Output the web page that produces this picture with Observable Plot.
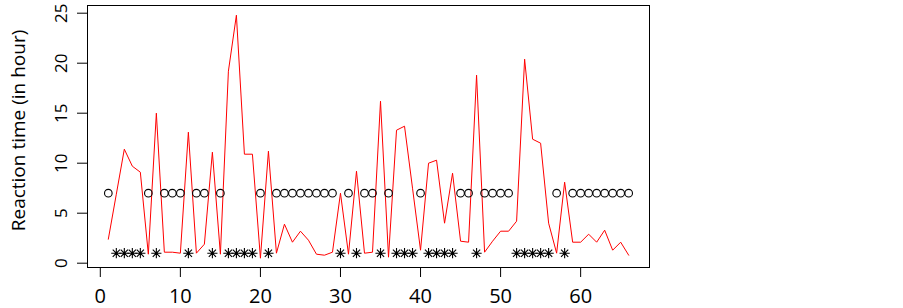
<!DOCTYPE html>
<html><head><meta charset="utf-8">
<script src="https://cdn.jsdelivr.net/npm/d3@7"></script>
<script src="https://cdn.jsdelivr.net/npm/@observablehq/plot@0.6"></script>
<style>body{margin:0;background:#fff}</style>
</head><body><div id="chart"></div>
<script>
// Reaction time (hours) for observations 1..66
const reactionTime = [
  2.4, 6.9, 11.4, 9.7, 9.1, 0.9, 15.0, 1.1, 1.1, 1.0,
  13.1, 1.0, 1.9, 11.1, 0.9, 19.2, 24.8, 10.9, 10.9, 0.5,
  11.2, 1.0, 3.9, 2.1, 3.2, 2.3, 0.9, 0.8, 1.1, 7.0,
  0.9, 9.2, 1.0, 1.1, 16.2, 0.6, 13.3, 13.7, 7.5, 1.3,
  10.0, 10.3, 4.0, 9.0, 2.2, 2.1, 18.8, 1.1, 2.2, 3.2,
  3.2, 4.2, 20.4, 12.4, 12.0, 4.0, 1.0, 8.1, 2.1, 2.1,
  2.9, 2.1, 3.3, 1.3, 2.1, 0.8
];
// observations marked with a circle (at level 7) and with an asterisk (at level 1)
const circleIdx = [1,6,8,9,10,12,13,15,20,22,23,24,25,26,27,28,29,31,33,34,36,40,45,46,48,49,50,51,57,59,60,61,62,63,64,65,66];
const starIdx = [2,3,4,5,7,11,14,16,17,18,19,21,30,32,35,37,38,39,41,42,43,44,47,52,53,54,55,56,58];
const circleLevel = 7;
const starLevel = 1;
const xTicks = [0,10,20,30,40,50,60];
const yTicks = [0,5,10,15,20,25];
const yTitle = "Reaction time (in hour)";

const series = reactionTime.map((v, i) => ({x: i + 1, y: v}));

// R-style pch 8 asterisk: "x" plus "+"
const rAsterisk = {
  draw(ctx, size) {
    const xc = Math.sqrt(size / Math.PI);
    const xp = Math.SQRT2 * xc;
    ctx.moveTo(-xc, -xc); ctx.lineTo(xc, xc);
    ctx.moveTo(-xc, xc); ctx.lineTo(xc, -xc);
    ctx.moveTo(-xp, 0); ctx.lineTo(xp, 0);
    ctx.moveTo(0, -xp); ctx.lineTo(0, xp);
  }
};

const chart = Plot.plot({
  width: 903, height: 308,
  marginLeft: 87, marginRight: 254, marginTop: 5, marginBottom: 41,
  style: {fontFamily: "'Open Sans', sans-serif", fontSize: "18px", color: "black", background: "white"},
  x: {domain: [-1.6, 68.6], label: null},
  y: {domain: [-0.43, 25.77], label: null},
  marks: [
    Plot.line(series, {x: "x", y: "y", stroke: "#ff0000", strokeWidth: 1}),
    Plot.dot(circleIdx, {x: d => d, y: () => circleLevel, r: 3.8, stroke: "black", fill: "none", strokeWidth: 1.1}),
    Plot.dot(starIdx, {x: d => d, y: () => starLevel, r: 3.6, symbol: rAsterisk, stroke: "black", strokeWidth: 1.1}),
    Plot.frame({stroke: "black"}),
    Plot.axisX(xTicks, {tickSize: 10, tickPadding: 11, fontSize: 20, label: null}),
    Plot.axisY(yTicks, {tickSize: 10, tickFormat: () => "", label: null}),
    Plot.text(yTicks, {y: d => d, text: d => String(d), frameAnchor: "left", textAnchor: "middle", dx: -26, rotate: -90, fontSize: 17}),
    Plot.text([yTitle], {text: d => d, frameAnchor: "left", textAnchor: "middle", dx: -68.5, dy: -6, rotate: -90, fontSize: 19})
  ]
});
document.getElementById("chart").appendChild(chart);
</script>
</body></html>
